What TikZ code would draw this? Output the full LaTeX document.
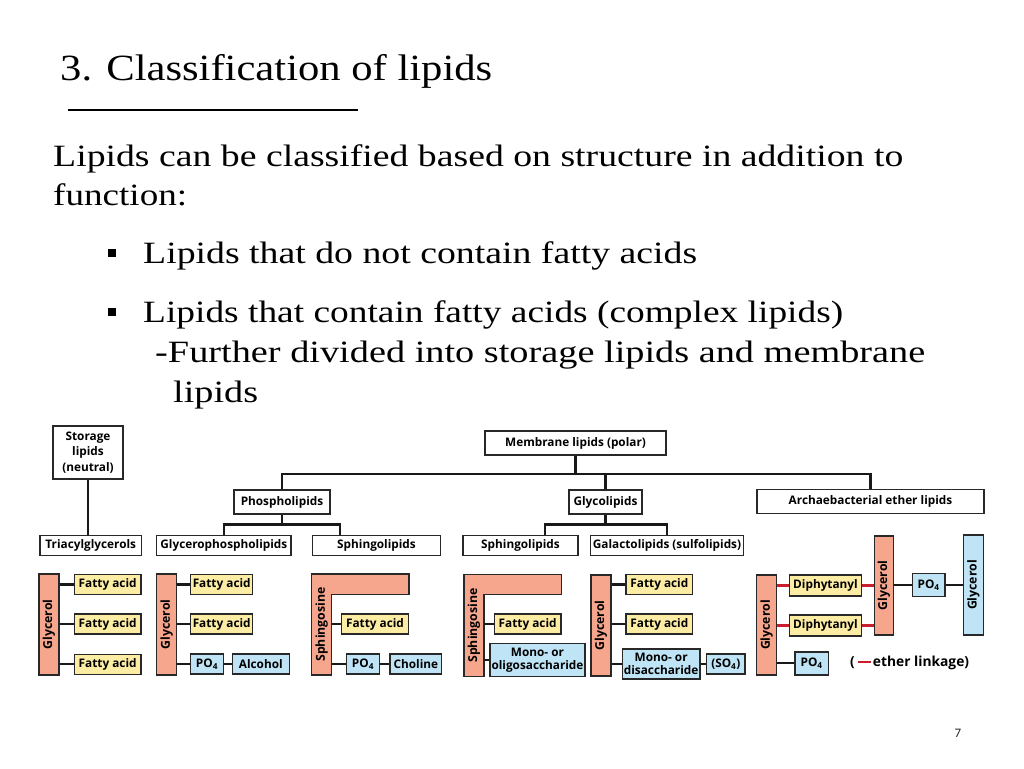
\documentclass[tikz,border=0pt]{standalone}
\usepackage{fontspec}
\usepackage{graphicx}
\setmainfont{Liberation Serif}
\newfontfamily\dgfam{Open Sans}
\newfontfamily\pgfam{Carlito}
\usetikzlibrary{calc}
\definecolor{salmon}{RGB}{246,166,140}
\definecolor{fayellow}{RGB}{252,236,164}
\definecolor{lblue}{RGB}{190,228,246}
\definecolor{ethred}{RGB}{200,30,45}
\definecolor{edgec}{RGB}{40,40,40}
\newcommand\dgfont{\dgfam\bfseries\fontsize{11.8}{13}\selectfont}
\begin{document}
\begin{tikzpicture}[x=1pt,y=-1pt,
  box/.style={draw=edgec, line width=1.4pt, fill=white, inner sep=0pt, align=center, font=\dgfont},
  fabox/.style={box, fill=fayellow},
  bbox/.style={box, fill=lblue},
  obar/.style={box, fill=salmon},
  conn/.style={line width=2.3pt, black!90},
  ether/.style={line width=2.3pt, ethred},
  vlab/.style={rotate=90, inner sep=0pt, font=\dgfam\bfseries\fontsize{12.3}{13}\selectfont},
  body/.style={anchor=base west, inner sep=0pt, font=\fontsize{31}{36}\selectfont},
  bullet/.style={fill=black, minimum size=8pt, inner sep=0pt}
]
\useasboundingbox (0,0) rectangle (1024,768);

% ---------- slide text ----------
\node[body, font=\fontsize{37}{40}\selectfont] (title) at (60,80) {\resizebox{432pt}{\height}{3. Classification of lipids}};
\coordinate (ulA) at (68,110);
\coordinate (ulB) at (358,110);
\draw[line width=2pt] (ulA) -- (ulB);
\node[body] (l1) at (53,166) {\resizebox{850pt}{\height}{Lipids can be classified based on structure in addition to}};
\node[body] (l2) at (53,205) {\resizebox{134pt}{\height}{function:}};
\node[bullet] (b1) at (112,253) {};
\node[body] (l3) at (143,263) {\resizebox{554pt}{\height}{Lipids that do not contain fatty acids}};
\node[bullet] (b2) at (112,312) {};
\node[body] (l4) at (143,322) {\resizebox{700pt}{\height}{Lipids that contain fatty acids (complex lipids)}};
\node[body] (l5) at (155,362) {\resizebox{770pt}{\height}{-Further divided into storage lipids and membrane}};
\node[body] (l6) at (173,402) {\resizebox{85pt}{\height}{lipids}};
\node[font=\pgfam\fontsize{13}{15}\selectfont, text=black!85, inner sep=0pt] (pg) at (958,733) {7};

% ---------- hierarchy ----------
\node[box, minimum width=70, minimum height=53, font=\dgfam\bfseries\fontsize{11.8}{15.5}\selectfont] (storage) at (88,452.5) {Storage\\lipids\\(neutral)};
\node[box, minimum width=181, minimum height=24] (membrane) at (575.5,443) {Membrane lipids (polar)};
\node[box, minimum width=96, minimum height=24] (phospho) at (282,502) {Phospholipids};
\node[box, minimum width=73, minimum height=24] (glyco) at (605.5,502) {Glycolipids};
\node[box, minimum width=227, minimum height=24] (arch) at (870.5,501.5) {Archaebacterial ether lipids};
\node[box, minimum width=101.5, minimum height=20] (tag) at (90.75,545.5) {Triacylglycerols};
\node[box, minimum width=134.3, minimum height=20] (gpl) at (223.85,545.5) {Glycerophospholipids};
\node[box, minimum width=128.4, minimum height=20] (sphp) at (376.5,545.5) {Sphingolipids};
\node[box, minimum width=115, minimum height=20] (sphg) at (520.5,545.5) {Sphingolipids};
\node[box, minimum width=153, minimum height=20] (gal) at (667,545.5) {Galactolipids (sulfolipids)};

\coordinate (bus) at (575.5,474);
\draw[conn] (membrane.south) -- (bus);
\draw[conn] (phospho.north) |- (bus) -| (arch.north);
\draw[conn] (glyco.north) -- (glyco.north |- bus);
\draw[conn] (storage.south) -- (storage.south |- tag.north);
\coordinate (pbus) at (282,524.5);
\draw[conn] (phospho.south) -- (pbus);
\draw[conn] (gpl.north) |- (pbus) -| ($(sphp.north west)+(28.7,0)$);
\coordinate (gbus) at (605.5,524.5);
\draw[conn] (glyco.south) -- (gbus);
\draw[conn] ($(sphg.north west)+(82.7,0)$) |- (gbus) -| (gal.north);

% ---------- triacylglycerol ----------
\node[obar, minimum width=20, minimum height=101] (g1) at (49,624.5) {};
\node[vlab] at (g1) {Glycerol};
\node[fabox, minimum width=66.7, minimum height=20] (f1a) at (107.65,584.5) {Fatty acid};
\node[fabox, minimum width=66.7, minimum height=20] (f1b) at (107.65,624) {Fatty acid};
\node[fabox, minimum width=66.7, minimum height=20] (f1c) at (107.65,664.3) {Fatty acid};
\draw[conn] (g1.east |- f1a.west) -- (f1a.west);
\draw[conn] (g1.east |- f1b.west) -- (f1b.west);
\draw[conn] (g1.east |- f1c.west) -- (f1c.west);

% ---------- glycerophospholipid ----------
\node[obar, minimum width=20, minimum height=101] (g2) at (166.7,624.5) {};
\node[vlab] at (g2) {Glycerol};
\node[fabox, minimum width=62, minimum height=20] (f2a) at (221.7,584.5) {Fatty acid};
\node[fabox, minimum width=62, minimum height=20] (f2b) at (221.7,624) {Fatty acid};
\node[bbox, minimum width=32.6, minimum height=20] (po2) at (207,664) {PO\textsubscript{4}};
\node[bbox, minimum width=57, minimum height=20] (alc) at (260.8,664) {Alcohol};
\draw[conn] (g2.east |- f2a.west) -- (f2a.west);
\draw[conn] (g2.east |- f2b.west) -- (f2b.west);
\draw[conn] (g2.east |- po2.west) -- (po2.west);
\draw[conn] (po2.east) -- (alc.west);

% ---------- sphingomyelin ----------
\filldraw[draw=edgec, line width=1.4pt, fill=salmon] (311.7,574) -- (409,574) -- (409,594.3) -- (331.7,594.3) -- (331.7,675) -- (311.7,675) -- cycle;
\node[inner sep=0pt, minimum width=20, minimum height=101] (s1) at (321.7,624.5) {};
\node[vlab] at (s1) {Sphingosine};
\node[fabox, minimum width=66.6, minimum height=20] (f3) at (375,624) {Fatty acid};
\node[bbox, minimum width=32.6, minimum height=20] (po3) at (363,664) {PO\textsubscript{4}};
\node[bbox, minimum width=51.7, minimum height=20] (chol) at (415.85,664) {Choline};
\draw[conn] (s1.east |- f3.west) -- (f3.west);
\draw[conn] (s1.east |- po3.west) -- (po3.west);
\draw[conn] (po3.east) -- (chol.west);

% ---------- glycosphingolipid ----------
\filldraw[draw=edgec, line width=1.4pt, fill=salmon] (464,574.5) -- (561.7,574.5) -- (561.7,594.3) -- (484,594.3) -- (484,676.5) -- (464,676.5) -- cycle;
\node[inner sep=0pt, minimum width=20, minimum height=102] (s2) at (474,625.5) {};
\node[vlab] at (s2) {Sphingosine};
\node[fabox, minimum width=66.7, minimum height=20] (f4) at (527.65,624) {Fatty acid};
\node[bbox, minimum width=95, minimum height=33.4, font=\dgfam\bfseries\fontsize{11.8}{13.5}\selectfont] (mono1) at (537.5,660) {Mono- or\\oligosaccharide};
\draw[conn] (s2.east |- f4.west) -- (f4.west);
\draw[conn] (s2.east |- mono1.west) -- (mono1.west);

% ---------- galactolipid ----------
\node[obar, minimum width=20, minimum height=101] (g5) at (601,625.5) {};
\node[vlab] at (g5) {Glycerol};
\node[fabox, minimum width=66.7, minimum height=20] (f5a) at (659.35,584.5) {Fatty acid};
\node[fabox, minimum width=66.7, minimum height=20] (f5b) at (659.35,624) {Fatty acid};
\node[bbox, minimum width=77.7, minimum height=30, font=\dgfam\bfseries\fontsize{11.8}{13.5}\selectfont] (mono2) at (661.15,664) {Mono- or\\disaccharide};
\node[bbox, minimum width=38.3, minimum height=20] (so4) at (725.85,664) {(SO\textsubscript{4})};
\draw[conn] (g5.east |- f5a.west) -- (f5a.west);
\draw[conn] (g5.east |- f5b.west) -- (f5b.west);
\draw[conn] (g5.east |- mono2.west) -- (mono2.west);
\draw[conn] (mono2.east) -- (so4.west);

% ---------- archaebacterial ----------
\node[obar, minimum width=20, minimum height=100] (g6) at (766.7,625) {};
\node[vlab] at (g6) {Glycerol};
\node[fabox, minimum width=72.4, minimum height=21] (d1) at (825.5,585.5) {Diphytanyl};
\node[fabox, minimum width=72.4, minimum height=21] (d2) at (825.5,625.5) {Diphytanyl};
\node[bbox, minimum width=33.3, minimum height=23] (po6) at (811.65,663.3) {PO\textsubscript{4}};
\node[obar, minimum width=19, minimum height=99] (g7) at (883.8,585.5) {};
\node[vlab] at (g7) {Glycerol};
\node[bbox, minimum width=32.7, minimum height=23] (po7) at (928.65,585) {PO\textsubscript{4}};
\node[bbox, minimum width=20, minimum height=100] (g8) at (973.3,585) {};
\node[vlab] at (g8) {Glycerol};
\draw[ether] (g6.east |- d1.west) -- (d1.west);
\draw[ether] (g6.east |- d2.west) -- (d2.west);
\draw[ether] (d1.east) -- (d1.east -| g7.west);
\draw[ether] (d2.east) -- (d2.east -| g7.west);
\draw[conn] (g6.east |- po6.west) -- (po6.west);
\draw[conn] (g7.east |- po7.west) -- (po7.west);
\draw[conn] (po7.east) -- (po7.east -| g8.west);
\node[anchor=west, inner sep=0pt, font=\dgfam\bfseries\fontsize{13.8}{15}\selectfont] (legend) at (850,663.3) {(\hspace{3pt}\textcolor{ethred}{\rule[3.8pt]{13pt}{2.3pt}}\hspace{2pt}ether linkage)};
\end{tikzpicture}
\end{document}
